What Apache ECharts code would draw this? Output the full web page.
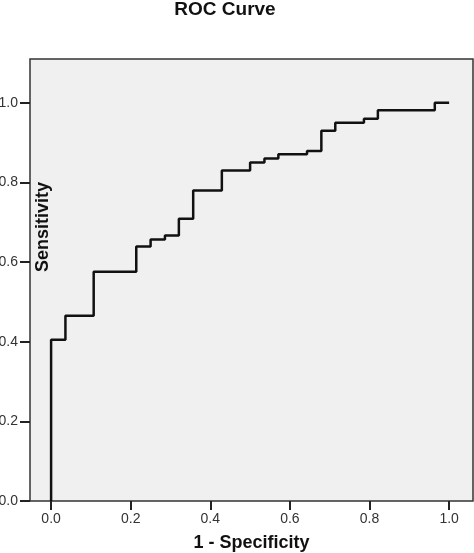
<!DOCTYPE html>
<html>
<head>
<meta charset="utf-8">
<script src="https://cdn.jsdelivr.net/npm/echarts@6/dist/echarts.min.js"></script>
<style>
  html, body { margin: 0; padding: 0; background: #fff; }
  #roc { width: 474px; height: 553px; }
</style>
</head>
<body>
<div id="roc"></div>
<script>
var fontName = "'Liberation Sans', Arial, sans-serif";

// corner points of the ROC step line (x = 1 - specificity, y = sensitivity)
var fpr = [0, 0, 0.036, 0.107, 0.214, 0.25, 0.286, 0.321, 0.357, 0.429, 0.5, 0.536, 0.571, 0.643, 0.679, 0.714, 0.786, 0.821, 0.964, 1.0];
var tpr = [0, 0.405, 0.465, 0.576, 0.639, 0.657, 0.667, 0.709, 0.78, 0.83, 0.85, 0.86, 0.871, 0.879, 0.93, 0.95, 0.96, 0.981, 1.0, 1.0];

var xTicks = [0, 0.2, 0.4, 0.6, 0.8, 1.0];
var yTicks = [0, 0.2, 0.4, 0.6, 0.8, 1.0];

var points = [];
for (var i = 0; i < fpr.length; i++) {
    points.push([fpr[i], tpr[i]]);
}

var chart = echarts.init(document.getElementById('roc'));

var option = {
    animation: false,
    backgroundColor: '#ffffff',
    title: {
        text: 'ROC Curve',
        left: 220,
        textAlign: 'center',
        top: -5,
        textStyle: {
            fontFamily: fontName,
            fontSize: 19,
            fontWeight: 'bold',
            color: '#111'
        }
    },
    grid: {
        left: 30,
        right: 1,
        top: 59,
        bottom: 52,
        outerBoundsMode: 'none',
        containLabel: false,
        show: true,
        backgroundColor: '#f0f0f0',
        borderColor: '#333',
        borderWidth: 1.5
    },
    xAxis: {
        type: 'value',
        min: -0.053,
        max: 1.06,
        name: '1 - Specificity',
        nameLocation: 'middle',
        nameGap: 33,
        nameTextStyle: {
            fontFamily: fontName,
            fontSize: 18,
            fontWeight: 'bold',
            color: '#111'
        },
        axisLine: { show: false, onZero: false },
        axisTick: {
            show: true,
            length: 9,
            customValues: xTicks,
            lineStyle: { color: '#222', width: 2 }
        },
        axisLabel: {
            customValues: xTicks,
            margin: 11,
            fontFamily: fontName,
            fontSize: 14,
            color: '#333',
            formatter: function (v) { return v.toFixed(1); }
        },
        splitLine: { show: false }
    },
    yAxis: {
        type: 'value',
        min: 0,
        max: 1.11,
        axisLine: { show: false, onZero: false },
        axisTick: {
            show: true,
            length: 10,
            customValues: yTicks,
            lineStyle: { color: '#222', width: 2 }
        },
        axisLabel: {
            customValues: yTicks,
            margin: 12,
            fontFamily: fontName,
            fontSize: 14,
            color: '#333',
            formatter: function (v) { return v.toFixed(1); }
        },
        splitLine: { show: false }
    },
    graphic: [
        {
            type: 'text',
            x: 43,
            y: 227,
            rotation: Math.PI / 2,
            style: {
                text: 'Sensitivity',
                fontFamily: fontName,
                fontSize: 18,
                fontWeight: 'bold',
                fill: '#111',
                textAlign: 'center',
                textVerticalAlign: 'middle'
            }
        }
    ],
    series: [
        {
            type: 'line',
            step: 'end',
            symbol: 'none',
            lineStyle: { color: '#111', width: 2.5 },
            data: points
        }
    ]
};

chart.setOption(option);
</script>
</body>
</html>
